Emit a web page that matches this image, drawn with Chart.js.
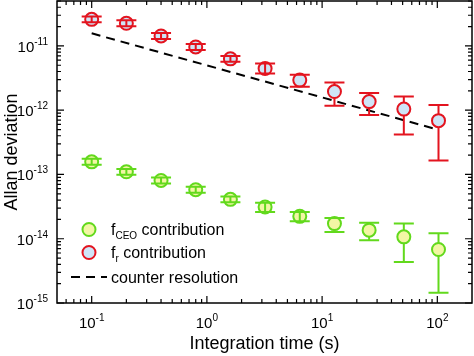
<!DOCTYPE html>
<html>
<head>
<meta charset="utf-8">
<script src="https://cdn.jsdelivr.net/npm/chart.js@4"></script>
<style>
html,body{margin:0;padding:0;background:#fff;}
#wrap{width:474px;height:356px;position:relative;}
</style>
</head>
<body>
<div id="wrap"><canvas id="c"></canvas></div>
<script>
// ---- data ----
const tau = [0.1, 0.2, 0.4, 0.8, 1.6, 3.2, 6.4, 12.8, 25.6, 51.2, 102.4];
const frVal = [2.59e-11, 2.25e-11, 1.43e-11, 9.64e-12, 6.29e-12, 4.45e-12, 2.94e-12, 1.95e-12, 1.36e-12, 1.04e-12, 6.88e-13];
const frHi  = [2.88e-11, 2.50e-11, 1.59e-11, 1.07e-11, 7.0e-12, 5.32e-12, 3.55e-12, 2.70e-12, 1.85e-12, 1.64e-12, 1.20e-12];
const frLo  = [2.33e-11, 2.02e-11, 1.28e-11, 8.66e-12, 5.65e-12, 3.72e-12, 2.31e-12, 1.17e-12, 8.43e-13, 4.17e-13, 1.65e-13];
const ceoVal = [1.57e-13, 1.10e-13, 8.07e-14, 5.79e-14, 4.10e-14, 3.11e-14, 2.23e-14, 1.72e-14, 1.36e-14, 1.07e-14, 6.80e-15];
const ceoHi  = [1.75e-13, 1.22e-13, 8.98e-14, 6.44e-14, 4.56e-14, 3.64e-14, 2.60e-14, 2.10e-14, 1.78e-14, 1.72e-14, 1.22e-14];
const ceoLo  = [1.41e-13, 9.88e-14, 7.25e-14, 5.20e-14, 3.68e-14, 2.60e-14, 1.87e-14, 1.27e-14, 9.48e-15, 4.35e-15, 1.44e-15];
const resTau = [0.1, 102.4];
const resVal = [1.57e-11, 4.95e-13];

const xMajor = [0.1, 1, 10, 100];
const xExp = ['-1', '0', '1', '2'];
const yMajor = [1e-15, 1e-14, 1e-13, 1e-12, 1e-11];
const yExp = ['-15', '-14', '-13', '-12', '-11'];
const xMinor = [0.06,0.07,0.08,0.09,0.2,0.3,0.4,0.5,0.6,0.7,0.8,0.9,2,3,4,5,6,7,8,9,20,30,40,50,60,70,80,90];
const yMinor = [];
[1e-15,1e-14,1e-13,1e-12,1e-11].forEach(d => { for (let k = 2; k <= 9; k++) { if (k*d < 5e-11) yMinor.push(k*d); } });

const legendLabels = [
  {main:'f', sub:'CEO', rest:' contribution'},
  {main:'f', sub:'r', rest:' contribution'},
  {main:'', sub:'', rest:'counter resolution'}
];
const xTitle = 'Integration time (s)';
const yTitle = 'Allan deviation';

const RED = '#e3141f', BLUE = '#cfe5f7', GREEN = '#62d91c', YEL = '#f2f6a4';
const FONT = '"Liberation Sans", Arial, sans-serif';
const R = 6.5;

function pts(xs, ys){ return xs.map((x,i)=>({x:x, y:ys[i]})); }

const overlay = {
  id: 'overlay',
  afterDatasetsDraw(chart){
    const ctx = chart.ctx, xs = chart.scales.x, ys = chart.scales.y, a = chart.chartArea;
    // error bars
    function bars(vals, hi, lo, col){
      ctx.save();
      ctx.strokeStyle = col; ctx.lineWidth = 2;
      tau.forEach((t,i)=>{
        const px = xs.getPixelForValue(t), cy = ys.getPixelForValue(vals[i]);
        const yh = ys.getPixelForValue(hi[i]), yl = ys.getPixelForValue(lo[i]);
        ctx.beginPath();
        if (yh > cy - R && yl < cy + R) { ctx.moveTo(px, yh); ctx.lineTo(px, yl); }
        else {
          ctx.moveTo(px, yh); ctx.lineTo(px, Math.min(cy - R, yl));
          ctx.moveTo(px, Math.max(cy + R, yh)); ctx.lineTo(px, yl);
        }
        ctx.moveTo(px-10, yh); ctx.lineTo(px+10, yh);
        ctx.moveTo(px-10, yl); ctx.lineTo(px+10, yl);
        ctx.stroke();
      });
      ctx.restore();
    }
    bars(frVal, frHi, frLo, RED);
    bars(ceoVal, ceoHi, ceoLo, GREEN);

    ctx.save();
    // frame
    ctx.strokeStyle = '#000'; ctx.lineWidth = 1.5;
    ctx.strokeRect(a.left, a.top, a.right - a.left, a.bottom - a.top);
    ctx.lineWidth = 1.2;
    ctx.beginPath();
    function xt(v, len){ const p = xs.getPixelForValue(v);
      ctx.moveTo(p, a.bottom); ctx.lineTo(p, a.bottom - len);
      ctx.moveTo(p, a.top); ctx.lineTo(p, a.top + len); }
    function yt(v, len){ const p = ys.getPixelForValue(v);
      ctx.moveTo(a.left, p); ctx.lineTo(a.left + len, p);
      ctx.moveTo(a.right, p); ctx.lineTo(a.right - len, p); }
    xMajor.forEach(v=>xt(v,7)); xMinor.forEach(v=>xt(v,4));
    yMajor.forEach(v=>yt(v,7)); yMinor.forEach(v=>yt(v,4));
    ctx.stroke();

    // tick labels
    ctx.fillStyle = '#000';
    ctx.textBaseline = 'alphabetic';
    xMajor.forEach((v,i)=>{
      const p = xs.getPixelForValue(v);
      ctx.font = '15px ' + FONT; const w1 = ctx.measureText('10').width;
      ctx.font = '10px ' + FONT; const w2 = ctx.measureText(xExp[i]).width;
      const x0 = p - (w1 + w2)/2;
      ctx.font = '15px ' + FONT; ctx.textAlign = 'left'; ctx.fillText('10', x0, 328);
      ctx.font = '10px ' + FONT; ctx.fillText(xExp[i], x0 + w1, 321);
    });
    yMajor.forEach((v,i)=>{
      const p = ys.getPixelForValue(v);
      ctx.font = '10px ' + FONT; const w2 = ctx.measureText(yExp[i]).width;
      ctx.font = '15px ' + FONT; const w1 = ctx.measureText('10').width;
      const xr = 48;
      ctx.textAlign = 'left';
      ctx.fillText('10', xr - w2 - w1, p + 6);
      ctx.font = '10px ' + FONT; ctx.fillText(yExp[i], xr - w2, p - 1);
    });

    // axis titles
    ctx.font = '18px ' + FONT; ctx.textAlign = 'center'; ctx.textBaseline = 'middle';
    ctx.fillText(xTitle, (a.left + a.right)/2, 344);
    ctx.save();
    ctx.translate(12, (a.top + a.bottom)/2);
    ctx.rotate(-Math.PI/2);
    ctx.fillText(yTitle, 0, 0);
    ctx.restore();

    // legend
    const rows = [229.5, 252.5, 277];
    ctx.lineWidth = 2;
    ctx.beginPath(); ctx.arc(89, rows[0], R, 0, Math.PI*2); ctx.fillStyle = YEL; ctx.fill(); ctx.strokeStyle = GREEN; ctx.stroke();
    ctx.beginPath(); ctx.arc(89, rows[1], R, 0, Math.PI*2); ctx.fillStyle = BLUE; ctx.fill(); ctx.strokeStyle = RED; ctx.stroke();
    ctx.strokeStyle = '#000'; ctx.setLineDash([9,6]);
    ctx.beginPath(); ctx.moveTo(71, rows[2]); ctx.lineTo(107, rows[2]); ctx.stroke();
    ctx.setLineDash([]);
    ctx.fillStyle = '#000'; ctx.textAlign = 'left'; ctx.textBaseline = 'alphabetic';
    legendLabels.forEach((l,i)=>{
      let x = 111; const yb = rows[i] + 5.5;
      if (l.main) {
        ctx.font = '16px ' + FONT; ctx.fillText(l.main, x, yb); x += ctx.measureText(l.main).width;
        ctx.font = '10px ' + FONT; ctx.fillText(l.sub, x, yb + 4); x += ctx.measureText(l.sub).width;
      }
      ctx.font = '16px ' + FONT; ctx.fillText(l.rest, x, yb);
    });
    ctx.restore();
  }
};

new Chart(document.getElementById('c'), {
  type: 'scatter',
  data: {
    datasets: [
      { label: 'fr', data: pts(tau, frVal), pointRadius: R, pointHoverRadius: R, pointBorderWidth: 2,
        borderColor: RED, backgroundColor: BLUE, showLine: false },
      { label: 'fceo', data: pts(tau, ceoVal), pointRadius: R, pointHoverRadius: R, pointBorderWidth: 2,
        borderColor: GREEN, backgroundColor: YEL, showLine: false },
      { label: 'res', data: pts(resTau, resVal), pointRadius: 0, showLine: true,
        borderColor: '#000', borderWidth: 2, borderDash: [9,6], fill: false }
    ]
  },
  options: {
    responsive: true, maintainAspectRatio: false, animation: false,
    layout: { autoPadding: false, padding: { left: 57, top: 1, right: 2, bottom: 53 } },
    plugins: { legend: { display: false }, tooltip: { enabled: false } },
    scales: {
      x: { type: 'logarithmic', min: 0.05, max: 200, display: false },
      y: { type: 'logarithmic', min: 1e-15, max: 5e-11, display: false }
    }
  },
  plugins: [overlay]
});
</script>
</body>
</html>
